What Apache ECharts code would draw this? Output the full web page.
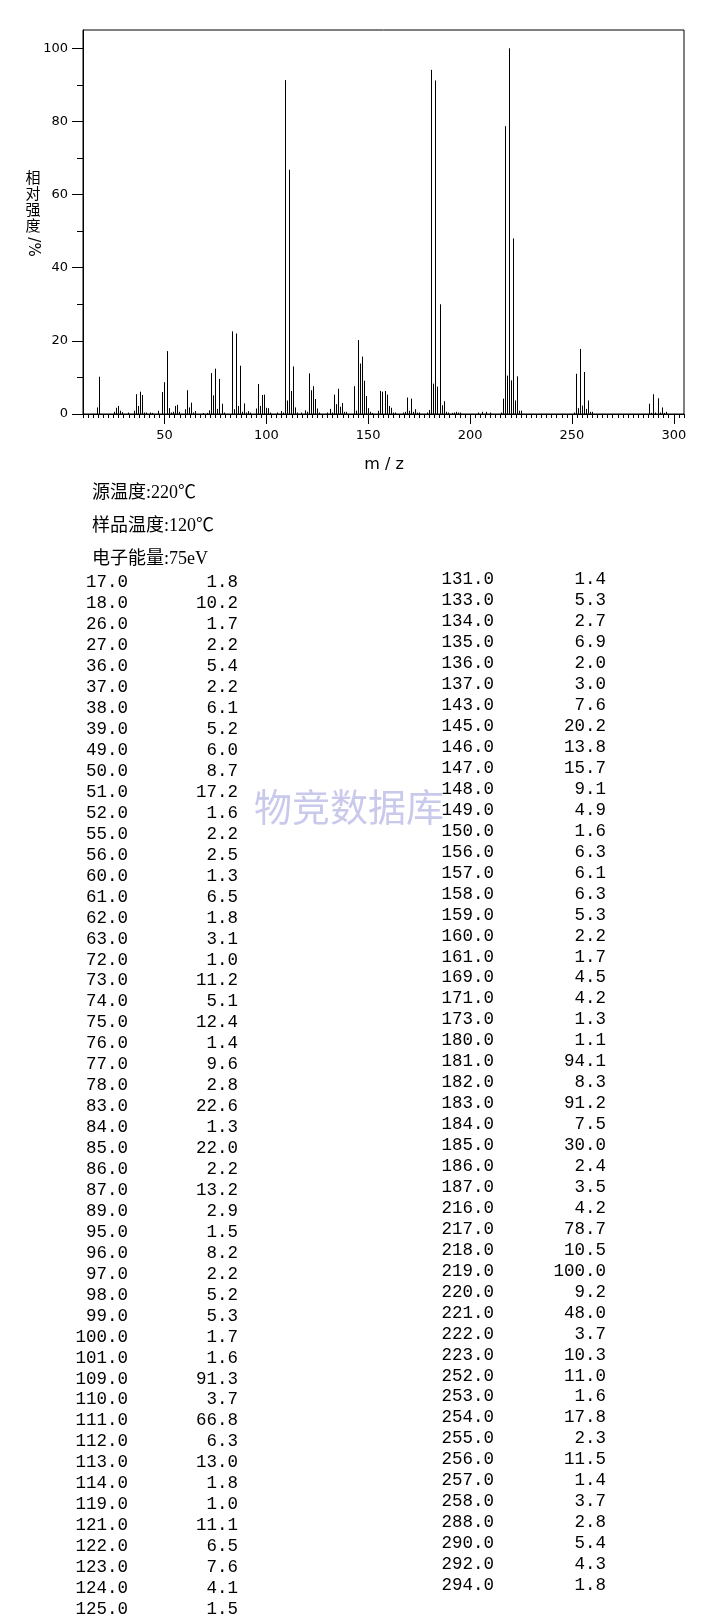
<!DOCTYPE html>
<html>
<head>
<meta charset="utf-8">
<script src="https://cdn.jsdelivr.net/npm/echarts@6/dist/echarts.min.js"></script>
<style>
html,body{margin:0;padding:0;background:#fff;}
#main{width:709px;height:1617px;}
</style>
</head>
<body>
<div id="main"></div>
<script>
// ---- data ----
const mz = [17,18,26,27,36,37,38,39,49,50,51,52,55,56,60,61,62,63,72,73,74,75,76,77,78,83,84,85,86,87,89,95,96,97,98,99,100,101,109,110,111,112,113,114,119,121,122,123,124,125,
131,133,134,135,136,137,143,145,146,147,148,149,150,156,157,158,159,160,161,169,171,173,180,181,182,183,184,185,186,187,216,217,218,219,220,221,222,223,252,253,254,255,256,257,258,288,290,292,294];
const intensity = [1.8,10.2,1.7,2.2,5.4,2.2,6.1,5.2,6.0,8.7,17.2,1.6,2.2,2.5,1.3,6.5,1.8,3.1,1.0,11.2,5.1,12.4,1.4,9.6,2.8,22.6,1.3,22.0,2.2,13.2,2.9,1.5,8.2,2.2,5.2,5.3,1.7,1.6,91.3,3.7,66.8,6.3,13.0,1.8,1.0,11.1,6.5,7.6,4.1,1.5,
1.4,5.3,2.7,6.9,2.0,3.0,7.6,20.2,13.8,15.7,9.1,4.9,1.6,6.3,6.1,6.3,5.3,2.2,1.7,4.5,4.2,1.3,1.1,94.1,8.3,91.2,7.5,30.0,2.4,3.5,4.2,78.7,10.5,100.0,9.2,48.0,3.7,10.3,11.0,1.6,17.8,2.3,11.5,1.4,3.7,2.8,5.4,4.3,1.8];
// small peaks (<1 %) visible in the plot but not listed in the table (estimated)
const minorMz = [25,28,29,32,35,40,41,43,44,47,53,54,57,64,65,69,71,79,88,90,91,92,102,105,107,108,115,117,120,126,130,132,138,139,144,151,152,155,162,163,167,168,170,172,174,175,179,188,189,191,192,193,194,195,204,206,208,210,215,224,225,251,259,260,289,291,293,295,296];
const minorInt = [0.6,0.9,0.5,0.4,0.9,0.4,0.4,0.4,0.3,0.9,0.4,0.6,0.6,0.4,0.8,0.3,0.3,0.4,0.6,0.4,0.8,0.4,0.4,0.4,0.8,0.4,0.4,0.4,0.6,0.4,0.4,0.4,0.6,0.6,0.9,0.6,0.3,0.9,0.4,0.4,0.4,0.6,0.9,0.6,0.4,0.4,0.4,0.6,0.4,0.3,0.4,0.6,0.4,0.4,0.4,0.6,0.6,0.4,0.4,0.9,0.9,0.4,0.6,0.6,0.3,0.4,0.4,0.3,0.6];
const yTickValues = [0,20,40,60,80,100];
const yMinorValues = [10,30,50,70,90];
const xTickValues = [50,100,150,200,250,300];
const yAxisTitle = '相对强度';
const yAxisUnit = '/%';
const xAxisTitle = 'm / z';
const headerLines = ['源温度:220℃','样品温度:120℃','电子能量:75eV'];
const watermark = '物竞数据库';
const leftRows = 50;

// ---- layout ----
const GL = 83, GT = 30, GR = 684, GB = 414;
const chart = echarts.init(document.getElementById('main'), null, {renderer:'canvas', width:709, height:1617});

function stick(params, api){
  const x = api.value(0), y = api.value(1);
  const p0 = api.coord([x, 0]);
  const p1 = api.coord([x, y]);
  const px = Math.round(p0[0]) + 0.5;
  return {type:'line', shape:{x1:px, y1:p0[1], x2:px, y2:p1[1]}, style:{stroke:'#000', lineWidth:1}, silent:true};
}

const graphics = [];
// y-axis title (vertical)
graphics.push({type:'text', x:33, y:169, style:{text: yAxisTitle.split('').join('\n'), font:'15px "Noto Sans CJK SC"', fill:'#000', lineHeight:16, align:'center', textAlign:'center', verticalAlign:'top', textVerticalAlign:'top'}});
graphics.push({type:'text', x:33, y:247, rotation:-Math.PI/2, style:{text: yAxisUnit, font:'15px "DejaVu Sans"', fill:'#000', align:'center', textAlign:'center', verticalAlign:'middle', textVerticalAlign:'middle'}});
// x-axis title
graphics.push({type:'text', x:384, y:465, style:{text:xAxisTitle, font:'16px "DejaVu Sans"', fill:'#000', align:'center', textAlign:'center', verticalAlign:'middle', textVerticalAlign:'middle'}});
// header lines
headerLines.forEach((t,i)=>{
  graphics.push({type:'text', x:92, y:493 + i*33, style:{text:t, font:'18px "Liberation Serif", "Noto Sans CJK SC"', fill:'#000', align:'left', textAlign:'left', verticalAlign:'middle', textVerticalAlign:'middle'}});
});
// watermark
graphics.push({type:'text', x:349, y:807, z:-10, style:{text:watermark, font:'38px "Noto Sans CJK SC"', fill:'#c9c9ec', align:'center', textAlign:'center', verticalAlign:'middle', textVerticalAlign:'middle'}});
// table
const tFont = '17.5px "Liberation Mono"';
mz.forEach((m,i)=>{
  const left = i < leftRows;
  const row = left ? i : i - leftRows;
  const y = (left ? 582.8 : 579.8) + row*20.95;
  const xm = left ? 128 : 494;
  const xv = left ? 238 : 606;
  graphics.push({type:'text', x:xm, y:y, z:10, style:{text:m.toFixed(1), font:tFont, fill:'#000', align:'right', textAlign:'right', verticalAlign:'middle', textVerticalAlign:'middle'}});
  graphics.push({type:'text', x:xv, y:y, z:10, style:{text:intensity[i].toFixed(1), font:tFont, fill:'#000', align:'right', textAlign:'right', verticalAlign:'middle', textVerticalAlign:'middle'}});
});

const axisFont = {fontFamily:'DejaVu Sans', fontSize:13, color:'#000'};
const option = {
  animation:false,
  backgroundColor:'#fff',
  grid:{left:GL, top:GT, width:GR-GL, height:GB-GT, show:true, borderColor:'#000', borderWidth:1, backgroundColor:'transparent', containLabel:false, outerBoundsMode:'none'},
  xAxis:[
    {type:'value', min:10, max:305, position:'bottom',
     axisLine:{show:true, onZero:false, lineStyle:{color:'#000', width:1}},
     axisTick:{show:true, length:10, inside:false, customValues:xTickValues, lineStyle:{color:'#000'}},
     axisLabel:{show:true, margin:15, customValues:xTickValues, ...axisFont},
     splitLine:{show:false}},
    {type:'value', min:10, max:305, interval:2.5, position:'bottom',
     axisLine:{show:false}, axisTick:{show:true, length:4, lineStyle:{color:'#000'}},
     axisLabel:{show:false}, splitLine:{show:false}}
  ],
  yAxis:[
    {type:'value', min:0, max:105, position:'left',
     axisLine:{show:true, onZero:false, lineStyle:{color:'#000', width:1}},
     axisTick:{show:true, length:11, customValues:yTickValues, lineStyle:{color:'#000'}},
     axisLabel:{show:true, margin:15, customValues:yTickValues, ...axisFont},
     splitLine:{show:false}},
    {type:'value', min:0, max:105, position:'left',
     axisLine:{show:false}, axisTick:{show:true, length:6, customValues:yMinorValues, lineStyle:{color:'#000'}},
     axisLabel:{show:false}, splitLine:{show:false}}
  ],
  series:[
    {type:'custom', xAxisIndex:0, yAxisIndex:0, renderItem:stick, data: minorMz.map((m,i)=>[m, minorInt[i]]), clip:true},
    {type:'custom', xAxisIndex:0, yAxisIndex:0, renderItem:stick, data: mz.map((m,i)=>[m, intensity[i]]), clip:true}
  ],
  graphic:{elements:graphics}
};
chart.setOption(option);
</script>
</body>
</html>
